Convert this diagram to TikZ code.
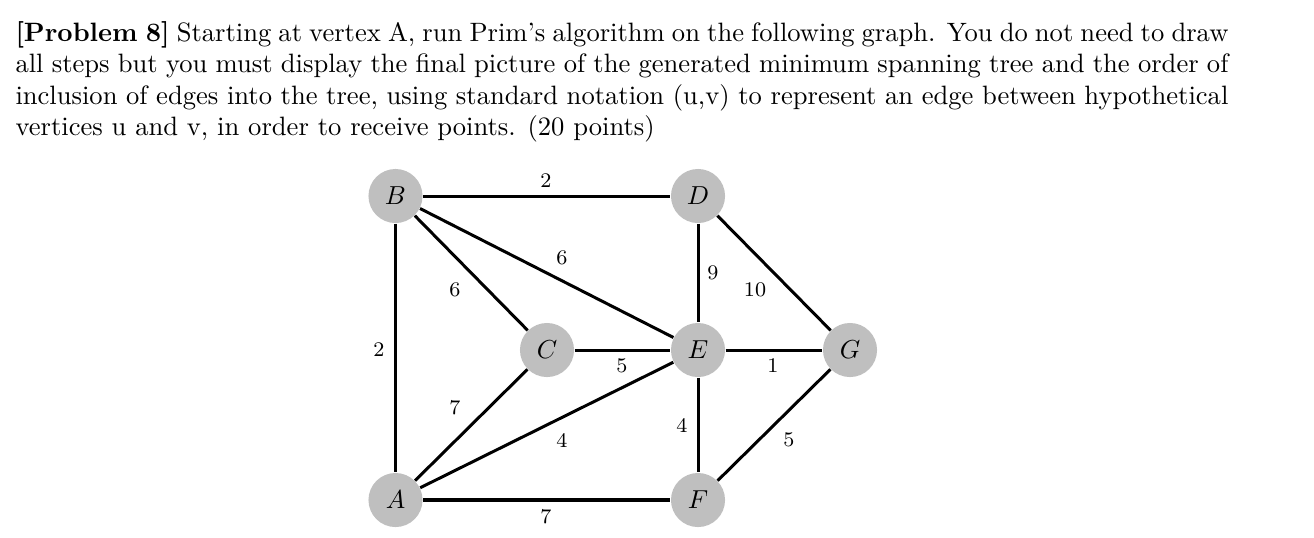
\documentclass[tikz,border=0pt]{standalone}
\usepackage{fontspec}
\begin{document}
\begin{tikzpicture}[x=0.38462pt,y=-0.38462pt,
  vtx/.style={circle,fill=nodegray,draw=none,minimum size=20.8pt,inner sep=0pt,font=\fontsize{9.7}{11}\selectfont},
  edg/.style={line width=1.15pt},
  edgthick/.style={line width=1.5pt},
  lbl/.style={inner sep=0pt,font=\fontsize{8}{9.5}\selectfont},
  txt/.style={anchor=base west,inner sep=0pt,font=\fontsize{10.22}{12}\selectfont}]
\definecolor{nodegray}{RGB}{191,191,191}
\useasboundingbox (0,0) rectangle (1314,537);
% text
\node[txt] (t1) at (15,41) {\makebox[466.5pt][s]{\textbf{[Problem 8]} Starting at vertex A, run Prim's algorithm on the following graph.  You do not need to draw}};
\node[txt] (t2) at (15,72.5) {\makebox[466.5pt][s]{all steps but you must display the final picture of the generated minimum spanning tree and the order of}};
\node[txt] (t3) at (15,104) {\makebox[466.5pt][s]{inclusion of edges into the tree, using standard notation (u,v) to represent an edge between hypothetical}};
\node[txt] (t4) at (15,135.5) {vertices u and v, in order to receive points. (20 points)};
% vertices
\node[vtx] (B) at (395.5,196) {$B$};
\node[vtx] (D) at (698,196) {$D$};
\node[vtx] (C) at (547,350) {$C$};
\node[vtx] (E) at (698,350) {$E$};
\node[vtx] (G) at (850,350) {$G$};
\node[vtx] (A) at (395.5,500) {$A$};
\node[vtx] (F) at (698,500) {$F$};
% edges
\draw[edg] (B) -- (D);
\draw[edg] (B) -- (E);
\draw[edg] (B) -- (C);
\draw[edg] (B) -- (A);
\draw[edg] (D) -- (E);
\draw[edg] (D) -- (G);
\draw[edg] (C) -- (E);
\draw[edg] (E) -- (G);
\draw[edg] (A) -- (C);
\draw[edg] (A) -- (E);
\draw[edg] (E) -- (F);
\draw[edg] (F) -- (G);
\draw[edgthick] (A) -- (F);
% labels
\node[lbl] (lBD) at (546,181) {2};
\node[lbl] (lBE) at (562,258) {6};
\node[lbl] (lBC) at (455,290) {6};
\node[lbl] (lDE) at (713,273) {9};
\node[lbl] (lDG) at (755,290) {10};
\node[lbl] (lBA) at (379,350) {2};
\node[lbl] (lCE) at (622,366) {5};
\node[lbl] (lEG) at (773,366) {1};
\node[lbl] (lAC) at (455,408) {7};
\node[lbl] (lAE) at (562,440) {4};
\node[lbl] (lEF) at (682,425) {4};
\node[lbl] (lFG) at (789,440) {5};
\node[lbl] (lAF) at (546,517) {7};
\end{tikzpicture}
\end{document}
